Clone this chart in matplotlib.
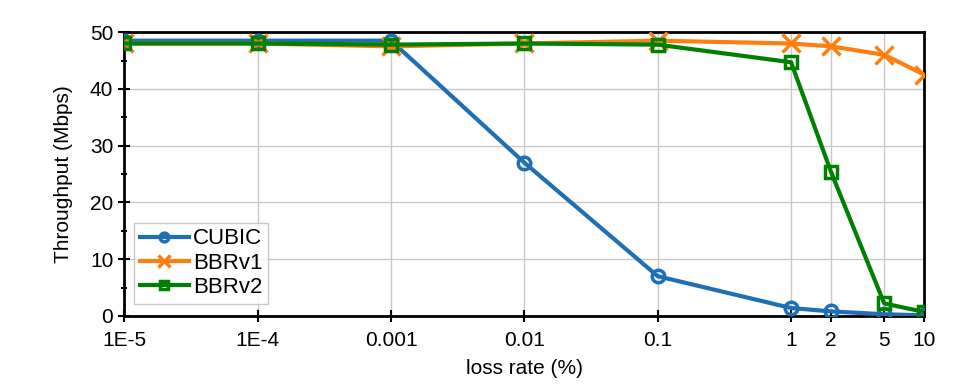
import matplotlib.pyplot as plt
from matplotlib.ticker import FixedLocator, MultipleLocator

plt.rcParams['font.family'] = ['Liberation Sans', 'DejaVu Sans']

loss_rate = [1e-5, 1e-4, 1e-3, 1e-2, 0.1, 1, 2, 5, 10]
tick_labels = ['1E-5', '1E-4', '0.001', '0.01', '0.1', '1', '2', '5', '10']
cubic = [48.5, 48.5, 48.5, 27.0, 7.0, 1.4, 0.8, 0.3, 0.1]
bbrv1 = [48.0, 48.0, 47.5, 48.0, 48.5, 48.0, 47.5, 46.0, 42.5]
bbrv2 = [48.0, 48.0, 47.8, 48.0, 47.8, 44.7, 25.3, 2.2, 0.7]

fig = plt.figure(figsize=(9.72, 3.92), dpi=100)
ax = fig.add_axes([0.128, 0.194, 0.823, 0.724])

ax.plot(loss_rate, cubic, color='#1f6fb4', lw=3, marker='o', ms=9,
        mfc='none', mew=2.5, label='CUBIC', zorder=3)
ax.plot(loss_rate, bbrv1, color='#ff7f0e', lw=3, marker='x', ms=13,
        mew=2.5, label='BBRv1', zorder=3)
ax.plot(loss_rate, bbrv2, color='#008000', lw=3, marker='s', ms=8,
        mfc='none', mew=2.5, label='BBRv2', zorder=4)

ax.set_xscale('log')
ax.set_xlim(1e-5, 10)
ax.set_ylim(0, 50)
ax.xaxis.set_major_locator(FixedLocator(loss_rate))
ax.xaxis.set_minor_locator(FixedLocator([]))
ax.set_xticklabels(tick_labels)
ax.yaxis.set_major_locator(MultipleLocator(10))
ax.yaxis.set_minor_locator(MultipleLocator(5))

ax.grid(True, which='major', color='#c8c8c8', lw=1)
ax.set_axisbelow(True)
for s in ax.spines.values():
    s.set_linewidth(2)
    s.set_color('black')

ax.tick_params(axis='both', which='major', direction='inout', length=8,
               width=1.5, labelsize=15)
ax.tick_params(axis='x', which='major', pad=7)
ax.tick_params(axis='y', which='major', pad=4)
ax.tick_params(axis='y', which='minor', direction='inout', length=5, width=1.5)

ax.set_xlabel('loss rate (%)', fontsize=15, labelpad=6)
ax.set_ylabel('Throughput (Mbps)', fontsize=15, labelpad=12)

leg = ax.legend(loc='lower left', bbox_to_anchor=(0.004, 0.02), fontsize=16,
                frameon=True, fancybox=False, edgecolor='#bbbbbb',
                handlelength=2.2, borderpad=0.25, labelspacing=0.15,
                handletextpad=0.2, borderaxespad=0.3, markerscale=0.7)
leg.get_frame().set_linewidth(1)

fig.savefig('out.png', dpi=100)
